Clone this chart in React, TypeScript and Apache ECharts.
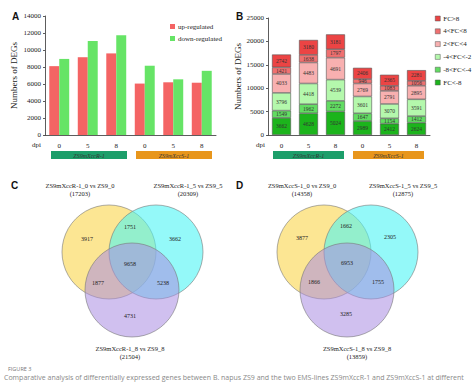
import React, { useEffect, useRef } from "react";
import * as echarts from "echarts";

const dpiLabels = ["0", "5", "8", "0", "5", "8"];
const upRegulated = [8100, 9150, 9600, 6050, 6200, 6150];
const downRegulated = [8950, 11050, 11750, 8150, 6550, 7550];

const fcNames = ["FC<-8", "-8<FC<-4", "-4<FC<-2", "2<FC<4", "4<FC<8", "FC>8"];
const fcColors = ["#1cb41c", "#62dc62", "#b4f8ac", "#f8b0b0", "#f07070", "#ec4444"];
const fcValues = [
  [3662, 4628, 5024, 2989, 2412, 2624],
  [1549, 1962, 2272, 1647, 1154, 1412],
  [3796, 4418, 4539, 3601, 3070, 3591],
  [4033, 4483, 4691, 2769, 2791, 2895],
  [1421, 1638, 1797, 946, 1083, 1056],
  [2742, 3180, 3181, 2406, 2365, 2281],
];

const lineR = "ZS9mXccR-1";
const lineS = "ZS9mXccS-1";
const vennCTitles = ["ZS9mXccR-1_0 vs ZS9_0", "ZS9mXccR-1_5 vs ZS9_5", "ZS9mXccR-1_8 vs ZS9_8"];
const vennCTotals = ["(17203)", "(20309)", "(21504)"];
const vennCValues = [3917, 1751, 3662, 9658, 1877, 5238, 4731];
const vennDTitles = ["ZS9mXccS-1_0 vs ZS9_0", "ZS9mXccS-1_5 vs ZS9_5", "ZS9mXccS-1_8 vs ZS9_8"];
const vennDTotals = ["(14358)", "(12875)", "(13859)"];
const vennDValues = [3877, 1662, 2305, 6953, 1866, 1755, 3285];

const SERIF = "Liberation Serif";

function venn(ox: number, titles: string[], totals: string[], vals: number[], titleX: number[], numPos: number[][]) {
  const r = 47;
  const circles = [
    { cx: ox + 109, cy: 252, fill: "rgba(250,215,80,0.62)" },
    { cx: ox + 156, cy: 252, fill: "rgba(70,245,245,0.58)" },
    { cx: ox + 132, cy: 290, fill: "rgba(170,140,225,0.55)" },
  ];
  const els: any[] = circles.map((c) => ({
    type: "circle",
    shape: { cx: c.cx, cy: c.cy, r },
    style: { fill: c.fill, stroke: "#777", lineWidth: 0.6 },
  }));
  vals.forEach((v, i) => {
    els.push({
      type: "text",
      x: ox + numPos[i][0],
      y: numPos[i][1],
      style: { text: String(v), font: `6px '${SERIF}'`, fill: "#222", align: "center", verticalAlign: "middle" },
    });
  });
  const ty = [185, 185, 348];
  titles.forEach((t, i) => {
    els.push({
      type: "text",
      x: titleX[i],
      y: ty[i],
      style: { text: t, font: `6.5px '${SERIF}'`, fill: "#222", align: "center", verticalAlign: "middle" },
    });
    els.push({
      type: "text",
      x: titleX[i],
      y: ty[i] + 8,
      style: { text: totals[i], font: `6.5px '${SERIF}'`, fill: "#222", align: "center", verticalAlign: "middle" },
    });
  });
  return els;
}

export default function App() {
  const ref = useRef<HTMLDivElement>(null);
  useEffect(() => {
    const chart = echarts.init(ref.current!, null, { renderer: "svg" });
    const tickFont = { fontFamily: SERIF, fontSize: 7, color: "#222" };
    const axisLine = { show: true, lineStyle: { color: "#333", width: 0.8 } };

    const series: any[] = [
      {
        name: "up-regulated",
        type: "bar",
        xAxisIndex: 0,
        yAxisIndex: 0,
        data: upRegulated,
        barGap: "0%",
        barCategoryGap: "30%",
        itemStyle: { color: "#f46464" },
      },
      {
        name: "down-regulated",
        type: "bar",
        xAxisIndex: 0,
        yAxisIndex: 0,
        data: downRegulated,
        itemStyle: { color: "#66e466" },
      },
    ];
    fcNames.forEach((n, i) => {
      series.push({
        name: n,
        type: "bar",
        stack: "fc",
        xAxisIndex: 1,
        yAxisIndex: 1,
        data: fcValues[i],
        barWidth: 19,
        itemStyle: { color: fcColors[i], borderColor: "#555", borderWidth: 0.6 },
        label: { show: true, position: "inside", fontFamily: SERIF, fontSize: 5.5, color: "#333" },
      });
    });

    const box = (x1: number, x2: number, color: string, text: string) => [
      { type: "rect", shape: { x: x1, y: 151, width: x2 - x1, height: 8 }, style: { fill: color } },
      {
        type: "text",
        x: (x1 + x2) / 2,
        y: 155.5,
        style: { text, font: `italic 6px '${SERIF}'`, fill: "#333", align: "center", verticalAlign: "middle" },
      },
    ];
    const letter = (t: string, x: number, y: number) => ({
      type: "text",
      x,
      y,
      style: { text: t, font: "bold 10px 'Liberation Sans'", fill: "#111", verticalAlign: "middle" },
    });

    const graphics: any[] = [
      letter("A", 12, 16),
      letter("B", 236, 16),
      letter("C", 11, 185),
      letter("D", 236, 185),
      { type: "text", x: 41, y: 145, style: { text: "dpi", font: `7px '${SERIF}'`, fill: "#222", align: "right", verticalAlign: "middle" } },
      { type: "text", x: 265, y: 145, style: { text: "dpi", font: `7px '${SERIF}'`, fill: "#222", align: "right", verticalAlign: "middle" } },
      ...box(51, 127, "#1c9e6a", lineR),
      ...box(136, 212, "#e8961c", lineS),
      ...box(273, 344, "#1c9e6a", lineR),
      ...box(353, 424, "#e8961c", lineS),
      ...venn(0, vennCTitles, vennCTotals, vennCValues, [80, 188, 130], [
        [87, 239], [130, 227], [175, 239], [130, 264], [98, 283], [163, 283], [130, 316],
      ]),
      ...venn(215, vennDTitles, vennDTotals, vennDValues, [302, 403, 357], [
        [87, 238], [131, 226], [175, 237], [132, 263], [99, 282], [163, 282], [131, 314],
      ]),
      { type: "text", x: 8, y: 369, style: { text: "FIGURE 3", font: "5.5px 'Open Sans'", fill: "#777", verticalAlign: "middle" } },
      {
        type: "text",
        x: 4,
        y: 377,
        style: {
          text: "Comparative analysis of differentially expressed genes between B. napus ZS9 and the two EMS-lines ZS9mXccR-1 and ZS9mXccS-1 at different",
          font: "7px 'Open Sans'",
          fill: "#888",
          verticalAlign: "middle",
        },
      },
    ];

    chart.setOption({
      animation: false,
      backgroundColor: "#fff",
      legend: [
        {
          data: ["up-regulated", "down-regulated"],
          orient: "vertical",
          left: 165,
          top: 18,
          itemWidth: 5,
          itemHeight: 5,
          itemGap: 5,
          icon: "rect",
          textStyle: { fontFamily: SERIF, fontSize: 7, color: "#222", padding: [0, 0, 0, -2] },
        },
        {
          data: [...fcNames].reverse(),
          orient: "vertical",
          left: 430,
          top: 10,
          itemWidth: 5,
          itemHeight: 5,
          itemGap: 5.8,
          icon: "rect",
          itemStyle: { borderColor: "#555", borderWidth: 0.5 },
          textStyle: { fontFamily: SERIF, fontSize: 7, color: "#222", padding: [0, 0, 0, -2] },
        },
      ],
      grid: [
        { left: 45, top: 16, width: 171, height: 119 },
        { left: 268, top: 18, width: 162, height: 117 },
      ],
      xAxis: [0, 1].map((i) => ({
        type: "category",
        gridIndex: i,
        data: dpiLabels,
        axisLine,
        axisTick: { show: false },
        axisLabel: { ...tickFont, margin: 7 },
      })),
      yAxis: [
        {
          type: "value",
          gridIndex: 0,
          min: 0,
          max: 14000,
          interval: 2000,
          axisLine,
          axisTick: { show: true, length: 2, lineStyle: { color: "#333", width: 0.8 } },
          splitLine: { show: false },
          axisLabel: { ...tickFont, margin: 4, formatter: (v: number) => String(v) },
          name: "Numbers of DEGs",
          nameLocation: "middle",
          nameGap: 27,
          nameTextStyle: { fontFamily: SERIF, fontSize: 9, color: "#222" },
        },
        {
          type: "value",
          gridIndex: 1,
          min: 0,
          max: 25000,
          interval: 5000,
          axisLine,
          axisTick: { show: true, length: 2, lineStyle: { color: "#333", width: 0.8 } },
          splitLine: { show: false },
          axisLabel: { ...tickFont, margin: 4, formatter: (v: number) => String(v) },
          name: "Numbers of DEGs",
          nameLocation: "middle",
          nameGap: 25,
          nameTextStyle: { fontFamily: SERIF, fontSize: 9, color: "#222" },
        },
      ],
      series,
      graphic: graphics,
    });
    return () => chart.dispose();
  }, []);
  return <div ref={ref} style={{ position: "fixed", left: 0, top: 0, width: 474, height: 382 }} />;
}
